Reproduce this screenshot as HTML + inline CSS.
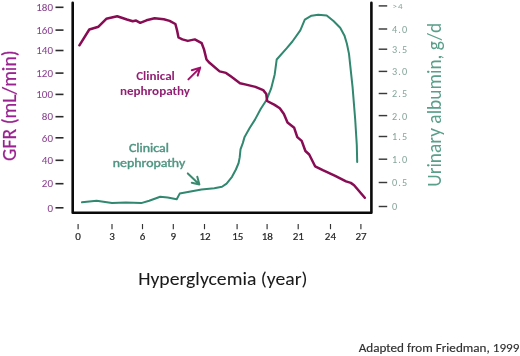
<!DOCTYPE html>
<html>
<head>
<meta charset="utf-8">
<style>
html,body{margin:0;padding:0;background:#fff;width:520px;height:356px;overflow:hidden}
svg{display:block}
text{font-family:Carlito,"Liberation Sans",sans-serif}
.ly{fill:#8a4490;font-size:11px;stroke:#8a4490;stroke-width:0.05px}
.ry{fill:#84a499;font-size:10.2px;letter-spacing:1.1px}
.xl{fill:#262626;font-size:11px;stroke:#262626;stroke-width:0.2px}
</style>
</head>
<body>
<svg width="520" height="356" viewBox="0 0 520 356">
<!-- axes frame -->
<path d="M72.7,2.7 V212.8 H371.4 V2.7" fill="none" stroke="#0a0a0a" stroke-width="2.6" stroke-linejoin="round" stroke-linecap="round"/>

<!-- left ticks -->
<g stroke="#2a2a2a" stroke-width="1.6">
<line x1="55.5" x2="63.5" y1="7.3" y2="7.3"/>
<line x1="55.5" x2="63.5" y1="30.1" y2="30.1"/>
<line x1="55.5" x2="63.5" y1="50.5" y2="50.5"/>
<line x1="55.5" x2="63.5" y1="73.1" y2="73.1"/>
<line x1="55.5" x2="63.5" y1="94.4" y2="94.4"/>
<line x1="55.5" x2="63.5" y1="116.7" y2="116.7"/>
<line x1="55.5" x2="63.5" y1="137.8" y2="137.8"/>
<line x1="55.5" x2="63.5" y1="160.3" y2="160.3"/>
<line x1="55.5" x2="63.5" y1="183.7" y2="183.7"/>
<line x1="55.5" x2="63.5" y1="207.8" y2="207.8"/>
</g>
<g class="ly" text-anchor="end">
<text x="53" y="11" textLength="16.73" lengthAdjust="spacingAndGlyphs">180</text>
<text x="53" y="33.8" textLength="16.73" lengthAdjust="spacingAndGlyphs">160</text>
<text x="53" y="54.2" textLength="16.73" lengthAdjust="spacingAndGlyphs">140</text>
<text x="53" y="76.8" textLength="16.73" lengthAdjust="spacingAndGlyphs">120</text>
<text x="53" y="98.1" textLength="16.73" lengthAdjust="spacingAndGlyphs">100</text>
<text x="53" y="120.4" textLength="11.16" lengthAdjust="spacingAndGlyphs">80</text>
<text x="53" y="141.5" textLength="11.16" lengthAdjust="spacingAndGlyphs">60</text>
<text x="53" y="164" textLength="11.16" lengthAdjust="spacingAndGlyphs">40</text>
<text x="53" y="187.4" textLength="11.16" lengthAdjust="spacingAndGlyphs">20</text>
<text x="53" y="211.5" textLength="5.58" lengthAdjust="spacingAndGlyphs">0</text>
</g>

<!-- right ticks -->
<g stroke="#3a3a3a" stroke-width="1.45">
<line x1="378.7" x2="387.2" y1="5.9" y2="5.9"/>
<line x1="378.7" x2="387.2" y1="29" y2="29"/>
<line x1="378.7" x2="387.2" y1="49.2" y2="49.2"/>
<line x1="378.7" x2="387.2" y1="71.4" y2="71.4"/>
<line x1="378.7" x2="387.2" y1="93.5" y2="93.5"/>
<line x1="378.7" x2="387.2" y1="115.6" y2="115.6"/>
<line x1="378.7" x2="387.2" y1="136.5" y2="136.5"/>
<line x1="378.7" x2="387.2" y1="159.2" y2="159.2"/>
<line x1="378.7" x2="387.2" y1="182.5" y2="182.5"/>
<line x1="378.7" x2="387.2" y1="206.5" y2="206.5"/>
</g>
<g class="ry">
<text x="392.5" y="9.1" font-size="9" textLength="11.25" lengthAdjust="spacingAndGlyphs">&gt;4</text>
<text x="392" y="32.9" textLength="16.20" lengthAdjust="spacingAndGlyphs">4.0</text>
<text x="392" y="53.1" textLength="16.20" lengthAdjust="spacingAndGlyphs">3.5</text>
<text x="392" y="75.3" textLength="16.20" lengthAdjust="spacingAndGlyphs">3.0</text>
<text x="392" y="97.4" textLength="16.20" lengthAdjust="spacingAndGlyphs">2.5</text>
<text x="392" y="119.5" textLength="16.20" lengthAdjust="spacingAndGlyphs">2.0</text>
<text x="392" y="140.4" textLength="16.20" lengthAdjust="spacingAndGlyphs">1.5</text>
<text x="392" y="163.1" textLength="16.20" lengthAdjust="spacingAndGlyphs">1.0</text>
<text x="392" y="186.4" textLength="16.20" lengthAdjust="spacingAndGlyphs">0.5</text>
<text x="392" y="210.4" textLength="6.27" lengthAdjust="spacingAndGlyphs">0</text>
</g>

<!-- x ticks -->
<g stroke="#333" stroke-width="1.15">
<line x1="78.1" x2="78.1" y1="224" y2="229.2"/>
<line x1="112" x2="112" y1="224" y2="229.2"/>
<line x1="142.5" x2="142.5" y1="224" y2="229.2"/>
<line x1="173.3" x2="173.3" y1="224" y2="229.2"/>
<line x1="204.5" x2="204.5" y1="224" y2="229.2"/>
<line x1="237.1" x2="237.1" y1="224" y2="229.2"/>
<line x1="267.1" x2="267.1" y1="224" y2="229.2"/>
<line x1="298.2" x2="298.2" y1="224" y2="229.2"/>
<line x1="330.5" x2="330.5" y1="224" y2="229.2"/>
<line x1="360.9" x2="360.9" y1="224" y2="229.2"/>
</g>
<g class="xl" text-anchor="middle">
<text x="78.1" y="239.5" textLength="5.58" lengthAdjust="spacingAndGlyphs">0</text>
<text x="112" y="239.5" textLength="5.58" lengthAdjust="spacingAndGlyphs">3</text>
<text x="142.5" y="239.5" textLength="5.58" lengthAdjust="spacingAndGlyphs">6</text>
<text x="173.3" y="239.5" textLength="5.58" lengthAdjust="spacingAndGlyphs">9</text>
<text x="205.1" y="239.5" textLength="11.16" lengthAdjust="spacingAndGlyphs">12</text>
<text x="237.8" y="239.5" textLength="11.16" lengthAdjust="spacingAndGlyphs">15</text>
<text x="267.3" y="239.5" textLength="11.16" lengthAdjust="spacingAndGlyphs">18</text>
<text x="298.3" y="239.5" textLength="11.16" lengthAdjust="spacingAndGlyphs">21</text>
<text x="330.4" y="239.5" textLength="11.16" lengthAdjust="spacingAndGlyphs">24</text>
<text x="361" y="239.5" textLength="11.16" lengthAdjust="spacingAndGlyphs">27</text>
</g>

<!-- axis titles -->
<text transform="translate(16.2,160.9) rotate(-90)" fill="#9a2290" font-size="19.66" stroke="#9a2290" stroke-width="0.2" textLength="110.58" lengthAdjust="spacingAndGlyphs">GFR (mL/min)</text>
<text transform="translate(441.0,186.8) rotate(-90)" fill="#5a9f8a" font-size="19.4" textLength="164.11" lengthAdjust="spacingAndGlyphs">Urinary albumin, g/d</text>
<text transform="translate(138.2,284.6) scale(1.045,1)" fill="#1a1a1a" font-size="18.85" stroke="#1a1a1a" stroke-width="0.05" textLength="162.00" lengthAdjust="spacingAndGlyphs">Hyperglycemia (year)</text>
<text transform="translate(358.7,352) scale(1.06,1)" fill="#2e2e2e" font-size="12.4" stroke="#2e2e2e" stroke-width="0.15" textLength="151.57" lengthAdjust="spacingAndGlyphs">Adapted from Friedman, 1999</text>

<!-- green curve -->
<polyline fill="none" stroke="#30886e" stroke-width="2" stroke-linejoin="round" stroke-linecap="round" points="82,202.3 96.6,200.8 112,203.1 125.8,202.6 141.2,203.1 149.2,200.8 160.2,196.8 167.7,197.6 176.7,199.2 179.7,193.6 189.2,191.8 201.5,189.5 214.3,188.2 222,186.8 226.6,183.6 232,176.8 235.9,169.5 238.6,163 239.7,157.4 240.5,149.3 242.8,143.1 244.6,136.9 249.8,127.7 255,119.6 260.8,108.7 266.5,100 271.1,88.7 274.7,74.4 276.7,59.5 286.8,48.2 292.4,41.5 300.3,30.3 304.8,19.7 311.5,15.7 318.2,14.8 326.7,15.5 333.5,21 340.2,27.8 344.4,35.4 346.9,43.8 349,53.9 352.6,87.3 355.2,119.5 356.8,145.3 357.2,162"/>

<!-- magenta curve -->
<polyline fill="none" stroke="#870c54" stroke-width="2.5" stroke-linejoin="round" stroke-linecap="round" points="79.4,45.3 89.3,29.5 98.5,26.7 106.3,18.8 117.2,16.3 126.9,19.5 132.7,21.2 136.1,20.6 140.2,22.8 146.5,20.3 154.6,18.3 163.8,19.2 169.6,20.9 175.4,24 177,30.1 178.5,37.5 182.4,39.4 187.8,40.9 194.8,39.4 201.7,43.2 204,49.4 206.5,59.5 209.5,62.8 219.6,71.4 226,72.9 231.1,76.6 240,83.3 246.1,84.6 255.4,86.9 263.2,90.1 266.3,94 267.1,101 274.6,104.9 279.8,108.3 283.9,114 287.5,122.5 294.2,127.8 297.3,137.1 301.7,140.9 305.4,151 309.2,154.5 315.1,166.3 322.8,170.1 335.2,175.8 346,181.4 350.8,182.9 354.1,185.2 364.8,197.8"/>

<!-- annotations -->
<g fill="#921f74" font-size="12.3" font-weight="700" text-anchor="middle">
<text transform="translate(155.5,80) scale(1.065,1)" textLength="36.30" lengthAdjust="spacingAndGlyphs">Clinical</text>
<text transform="translate(155,94.6) scale(1.065,1)" textLength="65.77" lengthAdjust="spacingAndGlyphs">nephropathy</text>
</g>
<g fill="#4f9480" font-size="12.3" font-weight="400" stroke="#4f9480" stroke-width="0.4" text-anchor="middle">
<text transform="translate(148.9,152.1) scale(1.1,1)" textLength="36.28" lengthAdjust="spacingAndGlyphs">Clinical</text>
<text transform="translate(149,166.9) scale(1.1,1)" textLength="65.74" lengthAdjust="spacingAndGlyphs">nephropathy</text>
</g>
<path d="M188.4,79.4 L200.2,67.6 M191.8,70.3 L200.2,67.6 L197.7,75.6" fill="none" stroke="#a0106a" stroke-width="2" stroke-linecap="round" stroke-linejoin="round"/>
<path d="M187.8,173.4 L199.4,184.4 M191.8,182.7 L199.4,184.4 L197.3,176.8" fill="none" stroke="#3a8a70" stroke-width="2" stroke-linecap="round" stroke-linejoin="round"/>
</svg>
</body>
</html>
